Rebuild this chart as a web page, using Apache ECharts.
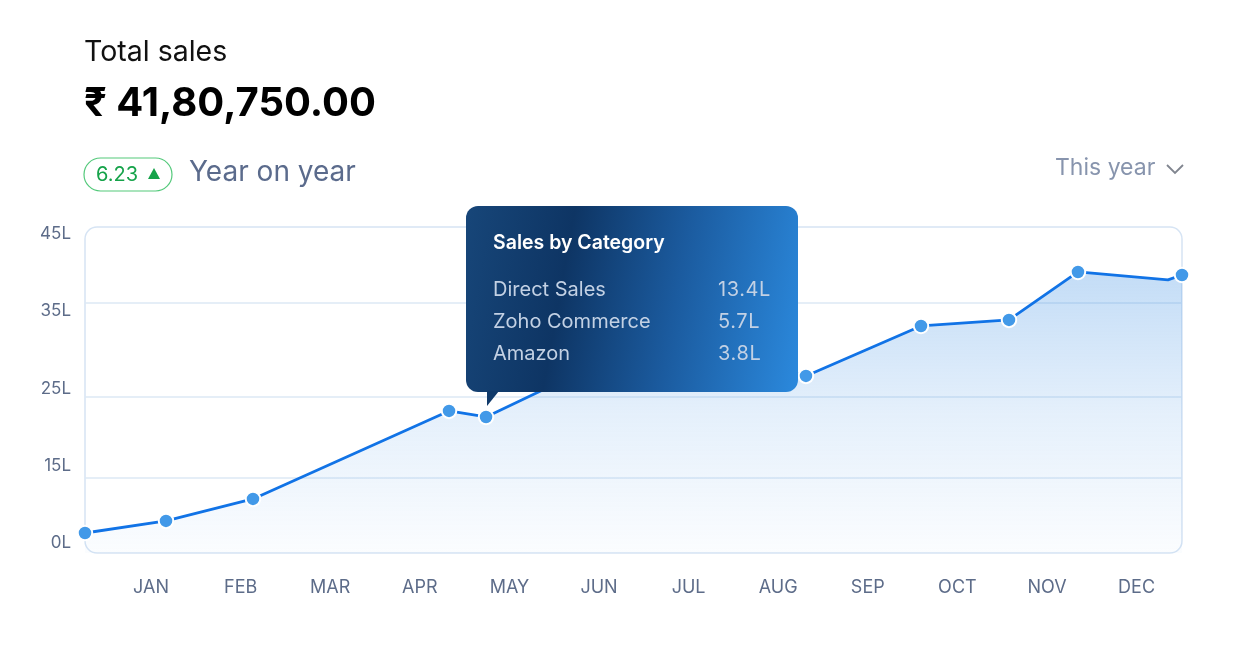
<!DOCTYPE html>
<html>
<head>
<meta charset="utf-8">
<script src="https://cdn.jsdelivr.net/npm/echarts@6/dist/echarts.min.js"></script>
<style>
  html, body { margin: 0; padding: 0; background: #fff; }
  #chart { width: 1250px; height: 660px; position: relative; }
</style>
</head>
<body>
<div id="chart"></div>
<script>
// months on the x axis, positions are month numbers (JAN = 1)
const months = ['JAN', 'FEB', 'MAR', 'APR', 'MAY', 'JUN', 'JUL', 'AUG', 'SEP', 'OCT', 'NOV', 'DEC']
const monthTicks = [1, 2, 3, 4, 5, 6, 7, 8, 9, 10, 11, 12]

// y axis labels and where they sit on the value scale (lakh)
const yTickLabels = ['0L', '15L', '25L', '35L', '45L']
const yTickValues = [5, 15, 25, 35, 45]
const gridValues = [13.5, 23.9, 36.1]

// sales line
const pointX = [0.263, 1.167, 2.138, 4.326, 4.739, 5.95, 7.1, 8.31, 9.594, 10.576, 11.346, 12.35, 12.507]
const pointY = [6.29, 7.85, 10.7, 22.09, 21.31, 28.0, 29.7, 26.62, 33.09, 33.87, 40.08, 39.05, 39.69]
const hiddenVertex = [11] // bend in the line with no dot

// tooltip contents
const tipTitle = 'Sales by Category'
const tipCategories = ['Direct Sales', 'Zoho Commerce', 'Amazon']
const tipValues = ['13.4L', '5.7L', '3.8L']
const tipIndex = 4

const FONT = 'Inter, "Noto Sans", sans-serif'

// plot box
const G = { left: 85, top: 227, right: 68, bottom: 107 }

const chart = echarts.init(document.getElementById('chart'), null, { renderer: 'canvas' })

const lineData = pointX.map((x, i) => {
  const d = { value: [x, pointY[i]] }
  if (hiddenVertex.indexOf(i) >= 0) d.symbol = 'none'
  return d
})

function tipHtml() {
  let rows = ''
  tipCategories.forEach((c, i) => {
    rows += '<div style="height:32px;line-height:32px;position:relative;">' +
      '<span>' + c + '</span>' +
      '<span style="position:absolute;left:225px;top:0;letter-spacing:0.6px;">' + tipValues[i] + '</span></div>'
  })
  return '<div style="position:relative;width:332px;height:186px;box-sizing:border-box;' +
    'padding:24px 0 0 27px;border-radius:12px;font-family:' + FONT.replace(/"/g, "'") + ';' +
    'background:linear-gradient(100deg,#174679 0%,#0e3564 30%,#1b5b9f 62%,#2b89dd 100%);">' +
    '<div style="font-size:19.5px;font-weight:600;color:#fff;line-height:24px;height:24px;">' + tipTitle + '</div>' +
    '<div style="margin-top:19px;font-size:20px;color:#c3d1e4;">' + rows + '</div>' +
    '<div style="position:absolute;left:21px;top:185px;width:0;height:0;' +
    'border-top:15px solid #103a6a;border-right:12px solid transparent;"></div>' +
    '</div>'
}

chart.setOption({
  animation: false,
  grid: { left: G.left, top: G.top, right: G.right, bottom: G.bottom, containLabel: false },
  xAxis: {
    type: 'value',
    min: 0.263,
    max: 12.507,
    axisLine: { show: false },
    axisTick: { show: false },
    splitLine: { show: false },
    axisLabel: {
      customValues: monthTicks,
      formatter: v => months[Math.round(v) - 1],
      color: '#5d6c89',
      fontFamily: FONT,
      fontSize: 18,
      margin: 26
    }
  },
  yAxis: {
    type: 'value',
    min: 3.7,
    max: 45.9,
    axisLine: { show: false },
    axisTick: { show: false, customValues: gridValues },
    splitLine: { show: true, lineStyle: { color: '#dde8f5', width: 1.5 } },
    axisLabel: {
      customValues: yTickValues,
      formatter: v => yTickLabels[yTickValues.indexOf(v)],
      color: '#5d6c89',
      fontFamily: FONT,
      fontSize: 17,
      margin: 14
    }
  },
  tooltip: {
    trigger: 'item',
    triggerOn: 'none',
    alwaysShowContent: true,
    showDelay: 0,
    transitionDuration: 0,
    padding: 0,
    borderWidth: 0,
    backgroundColor: 'transparent',
    extraCssText: 'box-shadow:none;border-radius:0;',
    position: (point, params, dom, rect, size) => [point[0] - 20, point[1] - 25 - size.contentSize[1]],
    formatter: () => tipHtml()
  },
  graphic: [
    {
      type: 'rect',
      silent: true,
      z: 0,
      shape: { x: G.left, y: G.top, width: 1250 - G.left - G.right, height: 660 - G.top - G.bottom, r: 12 },
      style: { fill: 'none', stroke: '#d6e4f4', lineWidth: 1.5 }
    },
    { type: 'text', style: { text: 'Total sales', x: 84, y: 52, textVerticalAlign: 'middle', font: '400 28.5px ' + FONT, fill: '#111' } },
    { type: 'text', style: { text: '₹ 41,80,750.00', x: 84, y: 104, textVerticalAlign: 'middle', font: '700 40px ' + FONT, fill: '#000' } },
    {
      type: 'rect',
      shape: { x: 84, y: 158, width: 88, height: 33, r: 16.5 },
      style: { fill: '#fff', stroke: '#54c97b', lineWidth: 1.2 }
    },
    { type: 'text', style: { text: '6.23', x: 96, y: 175, textVerticalAlign: 'middle', font: '400 20px ' + FONT, fill: '#16a34a' } },
    {
      type: 'polygon',
      shape: { points: [[148, 179], [160, 179], [154, 168]] },
      style: { fill: '#16a34a' }
    },
    { type: 'text', style: { text: 'Year on year', x: 189, y: 173, textVerticalAlign: 'middle', font: '400 28px ' + FONT, fill: '#5b6b8c' } },
    { type: 'text', style: { text: 'This year', x: 1055, y: 168, textVerticalAlign: 'middle', font: '400 23px ' + FONT, fill: '#8794ad' } },
    {
      type: 'polyline',
      shape: { points: [[1167, 165], [1175, 173], [1183, 165]] },
      style: { stroke: '#80858f', lineWidth: 1.8, fill: 'none' }
    }
  ],
  series: [{
    type: 'line',
    data: lineData,
    clip: false,
    smooth: false,
    symbol: 'circle',
    symbolSize: 14.5,
    z: 3,
    lineStyle: { color: '#1173e6', width: 2.8 },
    itemStyle: { color: '#4299e8', borderColor: '#fff', borderWidth: 2 },
    emphasis: { disabled: true },
    areaStyle: {
      origin: 'start',
      color: new echarts.graphic.LinearGradient(0, 0, 0, 1, [
        { offset: 0, color: 'rgba(66,146,228,0.45)' },
        { offset: 0.5, color: 'rgba(66,146,228,0.2)' },
        { offset: 1, color: 'rgba(66,146,228,0.03)' }
      ])
    }
  }]
})

chart.dispatchAction({ type: 'showTip', seriesIndex: 0, dataIndex: tipIndex })
</script>
</body>
</html>
